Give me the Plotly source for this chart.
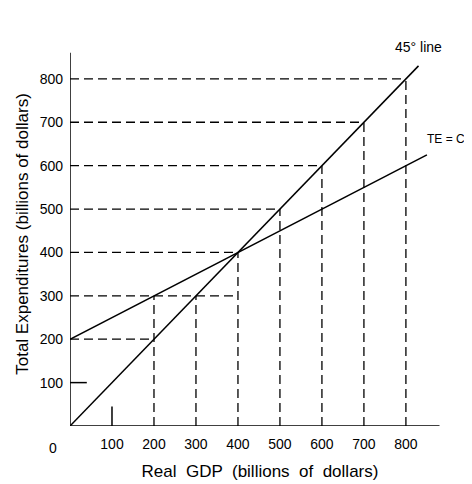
import plotly.graph_objects as go

levels = [100, 200, 300, 400, 500, 600, 700, 800]
line45_x = [0, 830]
line45_y = [0, 830]
te_x = [0, 850]
te_y = [200, 625]
# dashed guide segments: (x0, y0, x1, y1)
h_dash = [(0, 200, 200, 200), (0, 300, 400, 300), (0, 400, 400, 400), (0, 500, 500, 500),
          (0, 600, 600, 600), (0, 700, 700, 700), (0, 800, 800, 800)]
v_dash = [(200, 0, 200, 300), (300, 0, 300, 300), (400, 0, 400, 400), (500, 0, 500, 500),
          (600, 0, 600, 600), (700, 0, 700, 700), (800, 0, 800, 800)]

fig = go.Figure()
solid = dict(color="black", width=1.5)
fig.add_trace(go.Scatter(x=line45_x, y=line45_y, mode="lines", line=solid))
fig.add_trace(go.Scatter(x=te_x, y=te_y, mode="lines", line=solid))
# axes and small ticks
fig.add_trace(go.Scatter(x=[0, 0, None, 0, 880, None, 0, 40, None, 100, 100],
                         y=[0, 860, None, 0, 0, None, 100, 100, None, 0, 45],
                         mode="lines", line=solid))
for x0, y0, x1, y1 in h_dash + v_dash:
    fig.add_trace(go.Scatter(x=[x0, x1], y=[y0, y1], mode="lines",
                             line=dict(color="black", width=1.3, dash="9px,5px")))

fig.add_annotation(x=830, y=850, text="45° line", showarrow=False, xanchor="center", yanchor="bottom")
fig.add_annotation(x=845, y=640, text="TE = C + I", showarrow=False, xanchor="left", yanchor="bottom",
                   font=dict(size=12))
fig.add_annotation(x=-0.045, y=-0.03, xref="paper", yref="paper", text="0", showarrow=False,
                   xanchor="center", yanchor="top", font=dict(size=14))

fig.update_layout(
    width=472, height=484, showlegend=False,
    plot_bgcolor="white", paper_bgcolor="white",
    margin=dict(l=62, r=30, t=34, b=66, autoexpand=False),
    font=dict(family="Liberation Sans, Arial", size=14, color="black"),
    xaxis=dict(range=[0, 905], tickvals=levels, showgrid=False, zeroline=False, showline=False,
               ticks="", ticklabelstandoff=8, automargin=False,
               title=dict(text="Real  GDP  (billions  of  dollars)", standoff=14)),
    yaxis=dict(range=[0, 885], tickvals=levels, showgrid=False, zeroline=False, showline=False,
               ticks="", ticklabelstandoff=6, automargin=False,
               title=dict(text="Total Expenditures (billions of dollars)", standoff=6)),
)
fig.write_html("out.html")
